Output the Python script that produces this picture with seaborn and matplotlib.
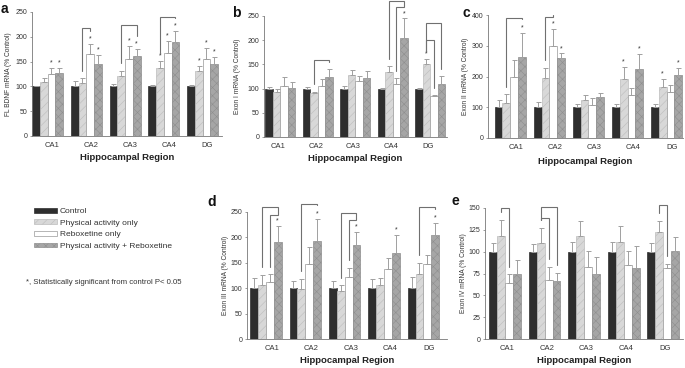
import numpy as np
import pandas as pd
import matplotlib
matplotlib.use("Agg")
import matplotlib.pyplot as plt
import seaborn as sns
from matplotlib.patches import Patch
from matplotlib.transforms import ScaledTranslation

# ---------------- data ----------------
regions = ["CA1", "CA2", "CA3", "CA4", "DG"]
treatments = ["Control", "Physical activity only", "Reboxetine only",
              "Physical activity + Reboxetine"]

# panel a: FL BDNF
a_means = [[100, 100, 100, 100, 100],
           [108, 106, 120, 138, 132],
           [125, 165, 156, 168, 156],
           [127, 146, 162, 190, 145]]
a_errs = [[1, 10, 5, 3, 3],
          [8, 10, 12, 14, 10],
          [12, 20, 25, 24, 22],
          [10, 17, 13, 21, 15]]
a_stars = [(0, 2), (0, 3), (1, 2), (1, 3), (2, 2), (2, 3),
           (3, 1), (3, 2), (3, 3), (4, 1), (4, 2), (4, 3)]
a_brackets = [(1, 1, 2, 217), (2, 1, 3, 224), (3, 1, 3, 240)]

# panel b: Exon I
b_means = [[100, 100, 100, 100, 100],
           [94, 90, 128, 134, 150],
           [105, 105, 115, 110, 84],
           [101, 123, 122, 205, 110]]
b_errs = [[4, 4, 5, 2, 2],
          [6, 4, 10, 13, 12],
          [19, 15, 12, 12, 3],
          [13, 17, 15, 40, 16]]
b_stars = [(3, 3), (4, 1)]
b_brackets = [(1, 1, 3, 159), (3, 1, 3, 281), (3, 2, 3, 268),
              (4, 1, 3, 236), (4, 1, 2, 201)]

# panel c: Exon II
c_means = [[100, 100, 100, 100, 100],
           [113, 196, 124, 193, 165],
           [197, 300, 106, 140, 151],
           [265, 260, 134, 226, 206]]
c_errs = [[22, 18, 10, 10, 12],
          [30, 33, 17, 38, 28],
          [57, 55, 25, 23, 20],
          [77, 15, 12, 47, 23]]
c_stars = [(0, 3), (1, 2), (1, 3), (3, 1), (3, 3), (4, 1), (4, 3)]
c_brackets = [(0, 1, 3, 389), (1, 1, 2, 394)]

# panel d: Exon III
d_means = [[100, 100, 100, 100, 100],
           [107, 99, 94, 107, 127],
           [113, 148, 123, 138, 147],
           [190, 192, 186, 169, 204]]
d_errs = [[20, 15, 14, 19, 22],
          [19, 19, 12, 14, 23],
          [14, 33, 17, 21, 19],
          [33, 45, 24, 36, 25]]
d_stars = [(0, 3), (1, 3), (2, 3), (3, 3), (4, 3)]
d_brackets = [(0, 1, 3, 260), (0, 2, 3, 244), (1, 1, 3, 265),
              (2, 1, 3, 249), (2, 2, 3, 234), (4, 1, 3, 260)]

# panel e: Exon IV
e_means = [[100, 100, 100, 100, 100],
           [118, 110, 118, 111, 122],
           [64, 68, 82, 85, 81],
           [74, 66, 74, 81, 101]]
e_errs = [[10, 9, 11, 11, 10],
          [18, 17, 17, 18, 13],
          [10, 15, 19, 16, 5],
          [16, 10, 20, 26, 16]]
e_stars = []
e_brackets = [(0, 1, 2, 150), (1, 1, 3, 151), (1, 1, 2, 138), (4, 1, 2, 153)]

ylabels = ["FL BDNF mRNA (% Control)", "Exon I mRNA (% Control)",
           "Exon II mRNA (% Control)", "Exon III mRNA (% Control)",
           "Exon IV mRNA (% Control)"]
panel_letters = ["a", "b", "c", "d", "e"]
xlabel = "Hippocampal Region"
footnote = "*, Statistically significant from control P< 0.05"

# ---------------- style ----------------
sns.set_style("white")
plt.rcParams["font.family"] = ["Liberation Sans", "DejaVu Sans"]
plt.rcParams["hatch.linewidth"] = 0.4

W, H = 685, 368
fig = plt.figure(figsize=(W / 100, H / 100), dpi=100)

face = ["#2e2e2e", "#d8d8d8", "#ffffff", "#a6a6a6"]
edge = ["#2e2e2e", "#bcbcbc", "#999999", "#8e8e8e"]
hatch = [None, "////", None, "xxxx"]
grey = "#777777"
txt = "#333333"


def px_axes(x0, x1, ytop, y0):
    return [x0 / W, 1 - y0 / H, (x1 - x0) / W, (y0 - ytop) / H]


panels = [
    dict(m=a_means, e=a_errs, s=a_stars, b=a_brackets, ymax=250, step=50,
         rect=px_axes(32, 222, 12, 136), xlim=(-0.4, 4.5), tx=5, lp=3, ylp=2.5),
    dict(m=b_means, e=b_errs, s=b_stars, b=b_brackets, ymax=250, step=50,
         rect=px_axes(264, 447, 16, 137), xlim=(-0.44, 4.45), tx=-2, lp=3, ylp=4.5),
    dict(m=c_means, e=c_errs, s=c_stars, b=c_brackets, ymax=400, step=100,
         rect=px_axes(488, 683, 15, 138), xlim=(-0.57, 4.42), tx=6, lp=5, ylp=2),
    dict(m=d_means, e=d_errs, s=d_stars, b=d_brackets, ymax=250, step=50,
         rect=px_axes(247, 447, 212, 339), xlim=(-0.48, 4.6), tx=6, lp=3, ylp=1.5),
    dict(m=e_means, e=e_errs, s=e_stars, b=e_brackets, ymax=150, step=25,
         rect=px_axes(485, 683, 208, 339), xlim=(-0.51, 4.5), tx=2, lp=3, ylp=1),
]

for k, p in enumerate(panels):
    ax = fig.add_axes(p["rect"])
    rows = []
    for t, tr in enumerate(treatments):
        for r, reg in enumerate(regions):
            rows.append(dict(region=reg, treatment=tr, value=p["m"][t][r]))
    df = pd.DataFrame(rows)
    sns.barplot(data=df, x="region", y="value", hue="treatment", order=regions,
                hue_order=treatments, palette=face, saturation=1, errorbar=None,
                width=0.8, gap=0, legend=False, linewidth=0.5, ax=ax)
    bar_conts = list(ax.containers)[:4]
    xs = np.zeros((4, 5))
    for t, cont in enumerate(bar_conts):
        for r, bar in enumerate(cont.patches):
            bar.set_edgecolor(edge[t])
            bar.set_linewidth(0.5)
            if hatch[t]:
                bar.set_hatch(hatch[t])
            xs[t, r] = bar.get_x() + bar.get_width() / 2
    for t in range(4):
        means = np.array(p["m"][t], float)
        errs = np.array(p["e"][t], float)
        ax.errorbar(xs[t], means, yerr=[np.zeros_like(errs), errs], fmt="none",
                    ecolor="#a0a0a0", elinewidth=0.7, capsize=1.8, capthick=0.7,
                    zorder=1)
    ymax = p["ymax"]
    star_set = set(p["s"])
    for (r, t) in p["s"]:
        ax.text(xs[t, r], p["m"][t][r] + p["e"][t][r] + ymax * 0.012, "*",
                ha="center", va="bottom", fontsize=5, color=txt)
    for (r, t0, t1, top) in p["b"]:
        yb0 = p["m"][t0][r] + p["e"][t0][r] + ymax * 0.06
        yb1 = p["m"][t1][r] + p["e"][t1][r] + ymax * 0.06
        if (r, t1) in star_set:
            yb1 += ymax * 0.05
        ax.plot([xs[t0, r], xs[t0, r], xs[t1, r], xs[t1, r]],
                [yb0, top, top, yb1], color="#707070", lw=0.8,
                clip_on=False, solid_joinstyle="miter", zorder=3)
    ax.set_ylim(0, ymax)
    ax.set_xlim(*p["xlim"])
    ax.set_yticks(np.arange(0, ymax + 1, p["step"]))
    sns.despine(ax=ax)
    for sp in ["left", "bottom"]:
        ax.spines[sp].set_color(grey)
        ax.spines[sp].set_linewidth(0.6)
    ax.tick_params(axis="y", length=1.8, width=0.5, color=grey, pad=1.5,
                   labelsize=5, labelcolor=txt, left=True)
    ax.tick_params(axis="x", length=0, pad=4, labelsize=5.5, labelcolor=txt)
    off = ScaledTranslation(p["tx"] / 100, 0, fig.dpi_scale_trans)
    for lab in ax.get_xticklabels():
        lab.set_transform(lab.get_transform() + off)
    ax.set_xlabel(xlabel, fontsize=6.8, fontweight="bold", color="#222222",
                  labelpad=p["lp"])
    ax.set_ylabel(ylabels[k], fontsize=4.8, color=txt, labelpad=p["ylp"])

# panel letters (pixel positions of baselines)
letter_pos = [(1, 13), (232, 17), (462, 17), (207, 206), (452, 205)]
for L, (x, y) in zip(panel_letters, letter_pos):
    fig.text(x / W, 1 - y / H, L, fontsize=10, fontweight="bold",
             va="baseline", ha="left", color="#111111")

# legend
handles = [Patch(facecolor=face[t], edgecolor=edge[t], hatch=hatch[t],
                 linewidth=0.5) for t in range(4)]
fig.legend(handles, treatments, loc="upper left",
           bbox_to_anchor=(34 / W, 1 - 208 / H), frameon=False, fontsize=6.0,
           handlelength=2.8, handleheight=0.5, handletextpad=0.3,
           labelspacing=0.5, borderpad=0, borderaxespad=0, labelcolor=txt)
fig.text(26 / W, 1 - 282 / H, footnote, fontsize=5.6, color=txt,
         va="center", ha="left")

fig.savefig("out.png", dpi=100)
